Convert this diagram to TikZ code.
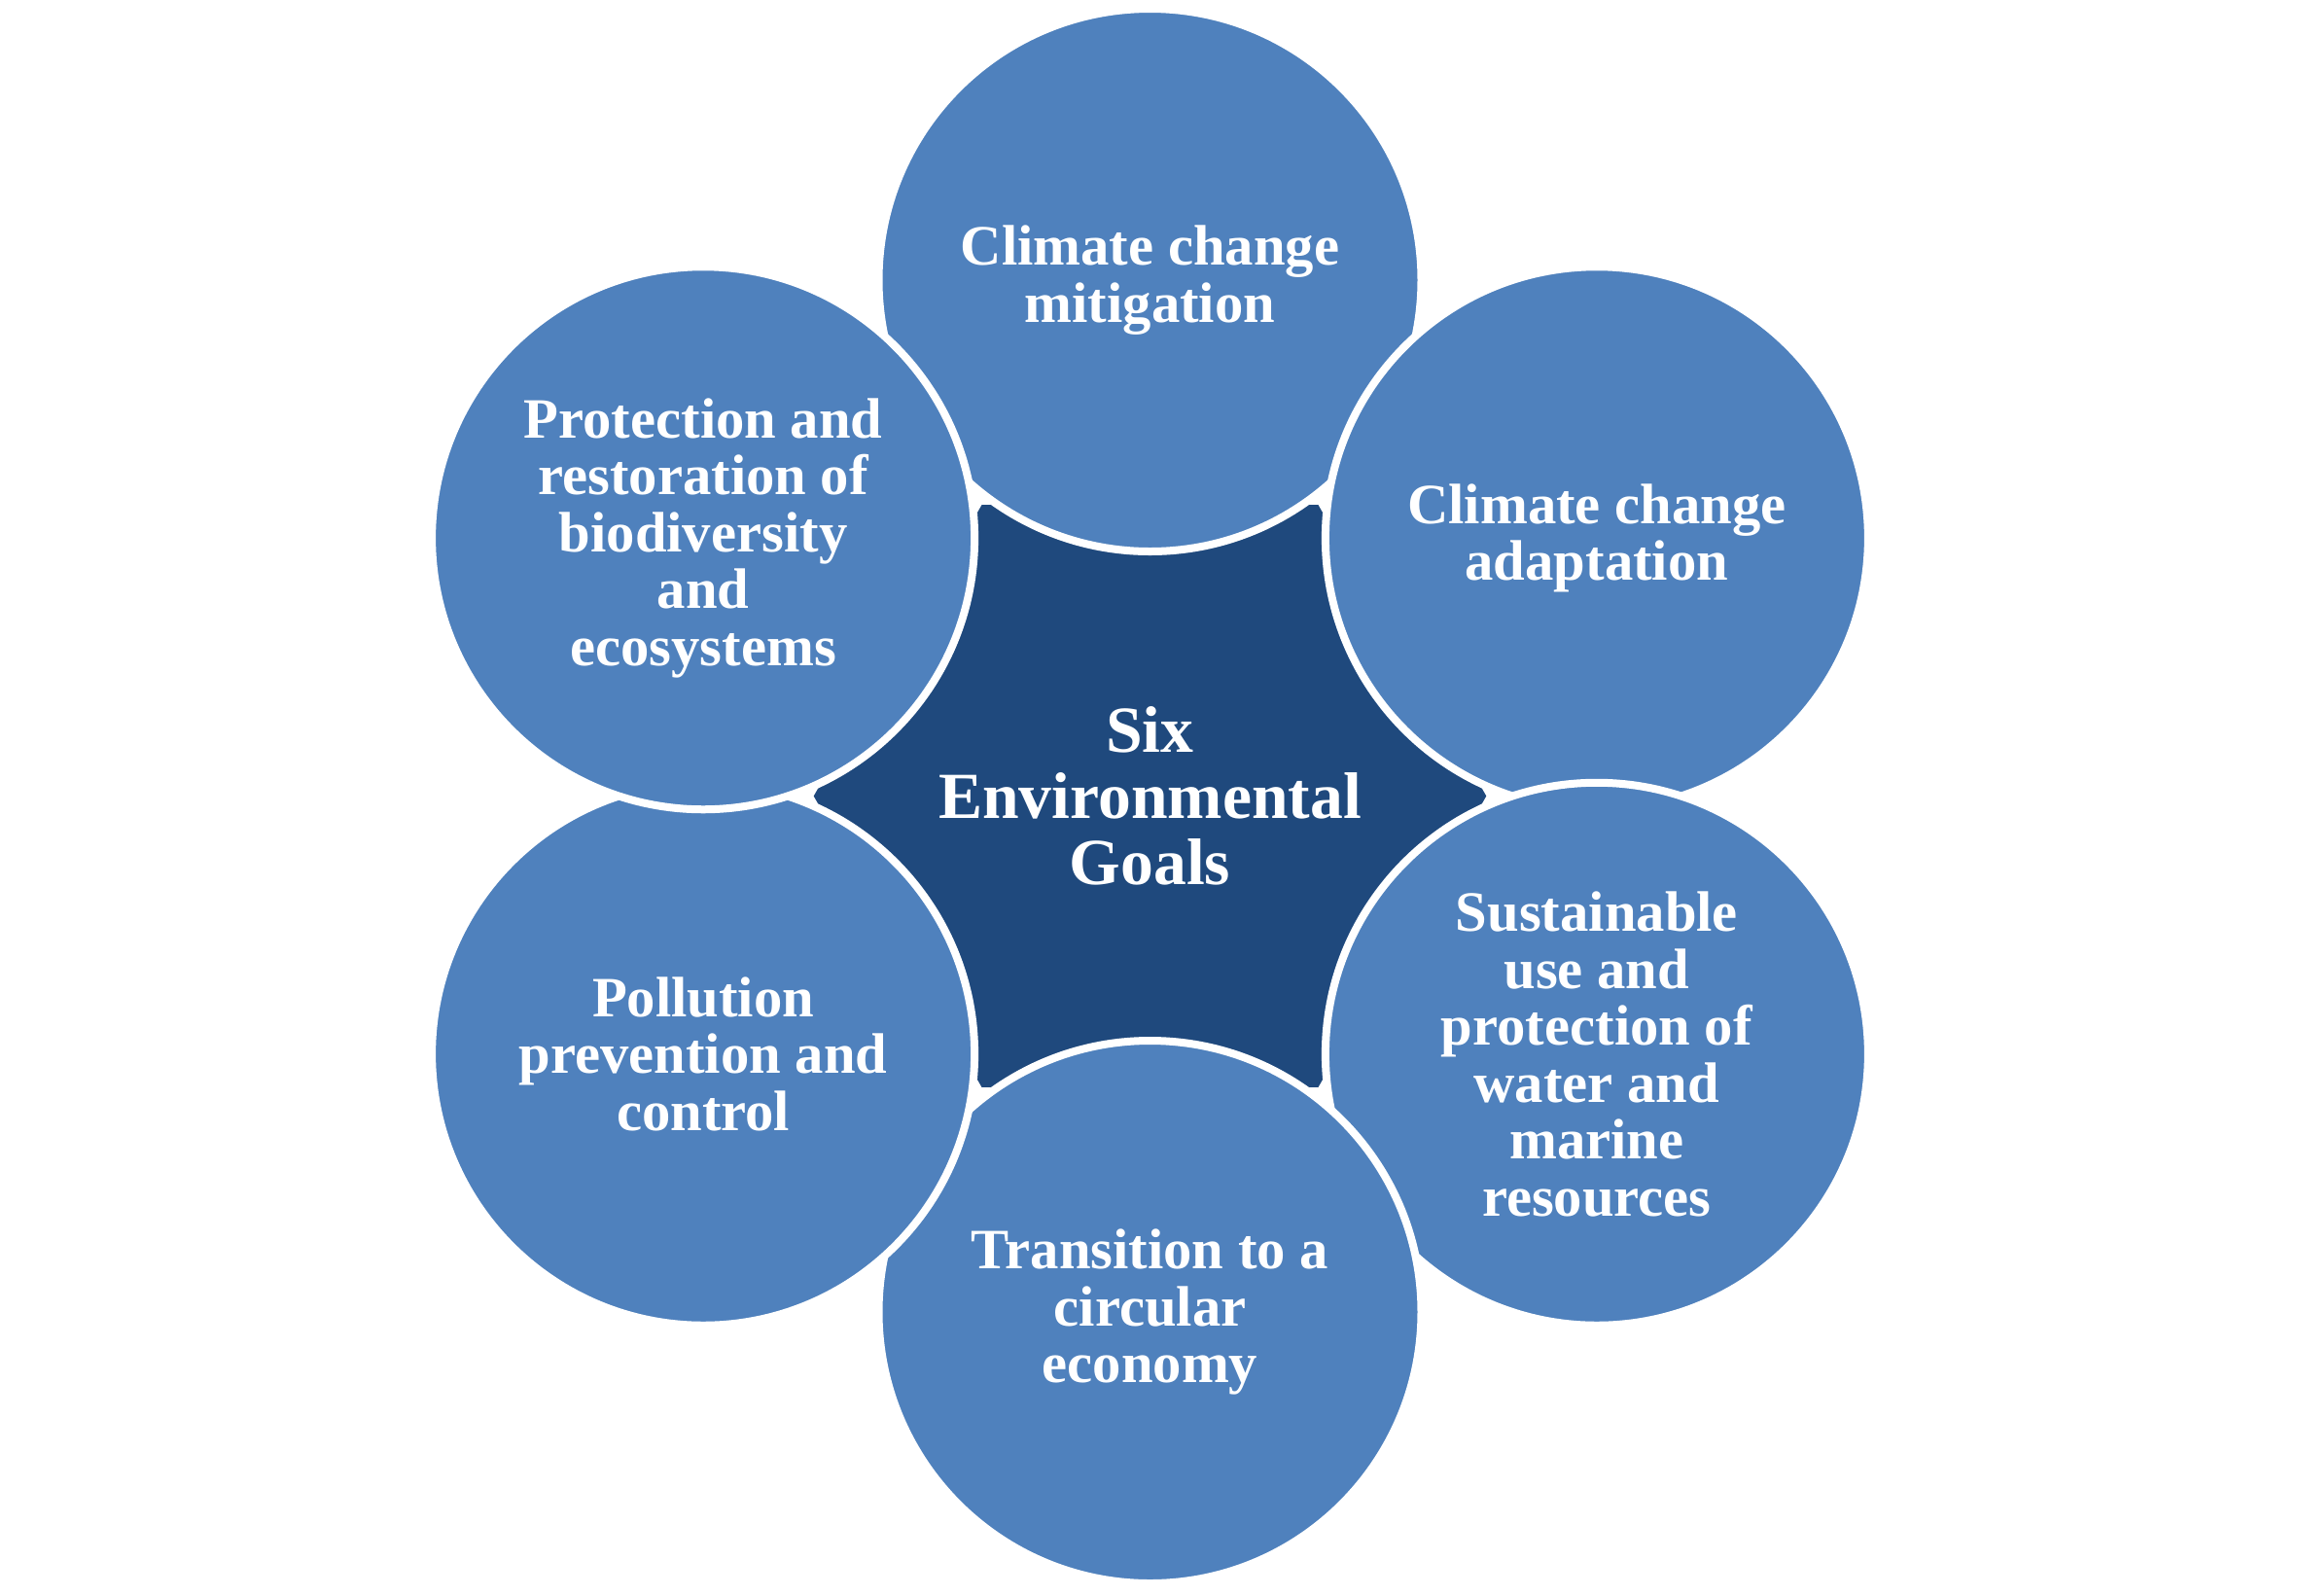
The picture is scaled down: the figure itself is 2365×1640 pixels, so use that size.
\documentclass[tikz,border=0pt]{standalone}
\usepackage{fontspec}
\setmainfont{Liberation Serif}
\definecolor{outerblue}{HTML}{4F81BD}
\definecolor{innerblue}{HTML}{1F497D}
\begin{document}
\begin{tikzpicture}[x=0.3pt,y=-0.3pt,
  goal/.style={circle, fill=outerblue, draw=white, line width=2.4pt,
    minimum size=167.4pt, inner sep=0pt, text=white, align=center,
    font=\bfseries\fontsize{17.6pt}{17.55pt}\selectfont},
  hubshape/.style={fill=innerblue, draw=white, line width=2.4pt, line join=miter},
  hubtext/.style={text=white, align=center, inner sep=0pt,
    font=\bfseries\fontsize{20.3pt}{20.4pt}\selectfont}]
\useasboundingbox (0,0) rectangle (2365,1640);
\coordinate (c) at (1182.5,818.5);
\path[hubshape] ([shift={(c)}]0:350.6) -- ([shift={(c)}]60:350.6) -- ([shift={(c)}]120:350.6)
  -- ([shift={(c)}]180:350.6) -- ([shift={(c)}]240:350.6) -- ([shift={(c)}]300:350.6) -- cycle;
\node[hubtext] (hub) at (c) {Six\\Environmental\\Goals};
\node[goal] (g1) at (1182.5,288) {Climate change\\mitigation};
\node[goal] (g2) at (1641.9,553.25) {Climate change\\adaptation};
\node[goal] (g3) at (1641.9,1083.75) {Sustainable\\use and\\protection of\\water and\\marine\\resources};
\node[goal] (g4) at (1182.5,1349) {Transition to a\\circular\\economy};
\node[goal] (g5) at (723.1,1083.75) {Pollution\\prevention and\\control};
\node[goal] (g6) at (723.1,553.25) {Protection and\\restoration of\\biodiversity\\and\\ecosystems};
\end{tikzpicture}
\end{document}
